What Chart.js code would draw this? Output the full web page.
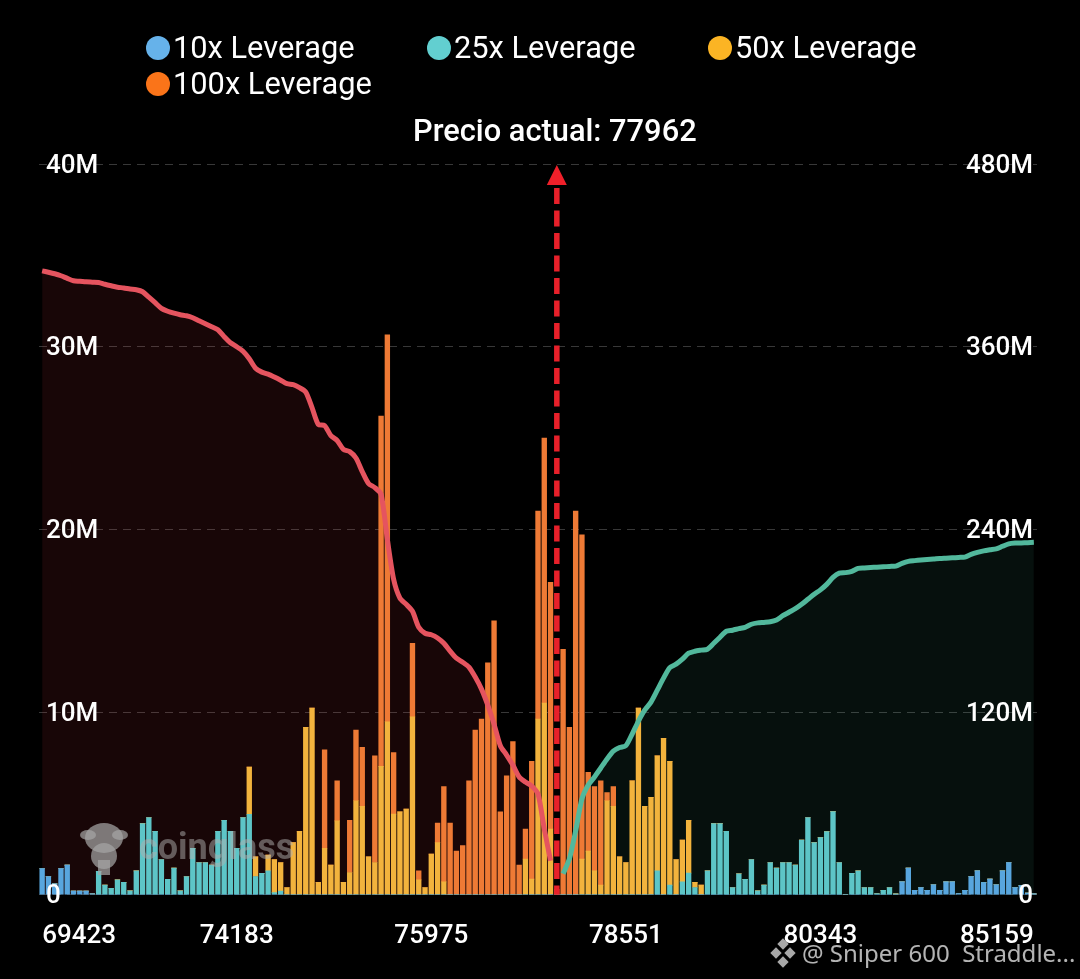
<!DOCTYPE html>
<html>
<head>
<meta charset="utf-8">
<script src="https://cdn.jsdelivr.net/npm/chart.js@4/dist/chart.umd.min.js"></script>
<style>
  html, body { margin: 0; background: #000; }
  #wrap { position: relative; width: 1080px; height: 979px; overflow: hidden; font-family: Roboto, sans-serif; color: #fff; }
  canvas { position: absolute; left: 0; top: 0; }
  .leg { position: absolute; font-size: 30.8px; line-height: 36px; white-space: nowrap; padding-left: 27px; }
  .leg i { position: absolute; left: 0; top: 6px; width: 24px; height: 24px; border-radius: 50%; }
  #firma { position: absolute; left: 802px; top: 936px; font: 24px "Noto Sans", sans-serif; color: rgba(225,225,225,.8); white-space: pre; }
</style>
</head>
<body>
<div id="wrap">
  <canvas id="grafico" width="1080" height="979"></canvas>
  <div id="leyenda"></div>
  <div id="firma">@ Sniper 600  Straddle...</div>
</div>
<script>
const none = n => Array(n).fill(null);
const zero = n => Array(n).fill(0);

// Eje X: solo algunos precios se muestran
const tickIndex = [0, 31, 62, 93, 124, 158];
const tickPrices = ['69423', '74183', '75975', '78551', '80343', '85159'];
const currentIndex = 82;
const currentPrice = '77962';

const seriesNames = ['10x Leverage', '25x Leverage', '50x Leverage', '100x Leverage'];
const legendColors = ['#66b2ea', '#62cfd0', '#fbb424', '#fa7419'];
const barColors = ['#58a6de', '#5dc5c7', '#f2b33d', '#ee7a35'];

// Barras apiladas (millones)
const lev10 = [1.44, 1, .6, 1.44, 1.62, .2, .2, .2, .05, ...zero(128),
  .71, 1.46, .24, .4, .24, .55, .24, .71, .71, .07, .24, 1, 1.31, .67, .86, .55, 1.31, 1.77, .4, .5, .1, .05];
const lev25 = [...zero(9),
  1.28, .53, .36, .82, .68, .22, 1.31, 3.9, 4.23, 3.47, 1.93, .84, 1.46, .22, 1, 2.54, 1.77, 1.77, 1.62, 3.47, 4.07, 3.47, 2.54, 4.23,
  4.4, 1, 1.17, 1.31, .12, .2, ...zero(59),
  1.31, 0, .53, 0, .71, 1.19, .4, 0,
  1.31, 3.9, 3.9, 3.47, .4, 1.15, .84, 1.93, .22, .53, 1.77, 1.46, 1.77, 1.77, 1.62, 3, 4.23, 2.86, 3.13, 3.46, 4.55, 1.77, .03, 1.17, 1.31, .4, .4, .07, .24, .4, .05,
  ...zero(22)];
const lev50 = [...zero(33),
  2.59, 1.08, 0, .86, 1.81, 1.57, .4, 2.86, 3.47, 9.16, 10.22, .68, 2.55, 1.62, 4.05, .68, 1.22, 5.15, 4.84, 2.08, 1.77, 7.03, 9.47, 4.42, 4.54, 4.69, 9.74, .82, .4, 2.23, 2.86, .71,
  ...zero(12),
  1.95, .86, 9.62, 10.5, 3.6, ...zero(4),
  1.95, 2.39, 1.31, .53, 5.15, 4.84, 2.08, 1.77, 6.24, 10.22, 4.84, 5.33, 6.29, 8.56, 6.77, 1.93, 2.29, 2.88, .28, .53,
  ...zero(53)];
const lev100 = [...zero(45),
  5.39, 0, 2.19, 0, 2.85, 3.86, 3.23, 0, 5.83, 19.17, 21.18, 3.37, 0, 0, 4.03, .49, 0, 0, 1.06, 5.22, 3.92, 2.39, 2.7, 6.24, 9.01, 9.62, 12.7, 15, 4.54, 6.51, 8.38, 1.62, 1.65, 6.44, 11.38, 14.5, 13.5, .3, 13.44, 9.16, 21, 17.75, 4.31, 4.62, 5.71, .45, 1.09,
  ...zero(67)];

// Lineas acumuladas (eje derecho, millones)
const longAcum = [409.8, 408.9, 407.9, 406.6, 404.9, 403.3, 403, 402.6, 402.4, 402.2,
  401, 400, 399.1, 398.6, 397.9, 397.4, 396.1, 392.5, 388.9, 385.2,
  383.3, 382, 381, 380.3, 379, 377, 375.1, 373.1, 371.1, 366.6,
  362.6, 360, 357, 352.1, 345.9, 343.3, 342, 340.1, 338, 335.7,
  335.1, 333.1, 330.2, 320, 308.9, 308.2, 301.6, 298.4, 292.5, 291.1,
  286.9, 278, 270.2, 267.5, 263, 233.4, 207.2, 194.8, 190.8, 186.2,
  175.7, 171.8, 170.8, 168.7, 165.2, 160, 155.4, 152.8, 149.5, 143,
  135.1, 124.6, 112.1, 97.9, 91.8, 85.2, 77.4, 74.1, 71.5, 66.2,
  43.3, 22.3, ...none(77)];
const shortAcum = [...none(83),
  13.8, 23.6, 42, 63, 72.1, 77.4, 83.3, 89.2, 94.4, 96.7,
  98, 105.6, 114.1, 121.3, 126.6, 134.4, 142.3, 149.2, 151.5, 154.8,
  158.7, 160, 160.7, 161.3, 165.2, 169.2, 173.1, 173.8, 174.8, 175.7,
  177.7, 178.6, 178.9, 179.3, 180.5, 183.3, 185.6, 187.9, 190.8, 194.1,
  197.4, 200.3, 203.9, 208.5, 211.3, 211.6, 212.5, 214.4, 214.7, 215,
  215.2, 215.4, 215.7, 215.9, 217.7, 219, 219.5, 219.9, 220.2, 220.5,
  220.9, 221.1, 221.3, 221.6, 221.8, 223.6, 224.9, 225.9, 226.6, 227.2,
  228.9, 230.5, 231, 231.1, 231.3, 231.5];

const categories = lev10.map((_, i) => String(i));

// Leyenda
const legendPos = [[146, 30], [427, 30], [708, 30], [146, 66]];
seriesNames.forEach((nombre, i) => {
  const item = document.createElement('div');
  item.className = 'leg';
  item.style.left = legendPos[i][0] + 'px';
  item.style.top = legendPos[i][1] + 'px';
  item.innerHTML = `<i style="background:${legendColors[i]}"></i>${nombre}`;
  document.getElementById('leyenda').appendChild(item);
});

// Marca de agua, flecha del precio actual y titulo
const extras = {
  id: 'extras',
  afterDatasetsDraw(chart) {
    const ctx = chart.ctx;
    const x = chart.scales.x.getPixelForValue(currentIndex);
    const top = chart.chartArea.top, bottom = chart.chartArea.bottom;
    ctx.save();

    // coinglass
    ctx.fillStyle = 'rgba(165,165,165,.72)';
    ctx.beginPath(); ctx.ellipse(104, 838, 19, 15, 0, 0, Math.PI * 2); ctx.fill();
    ctx.beginPath(); ctx.ellipse(104, 856, 13, 13, 0, 0, Math.PI * 2); ctx.fill();
    ctx.beginPath(); ctx.ellipse(88, 835, 8, 5, 0, 0, Math.PI * 2); ctx.fill();
    ctx.beginPath(); ctx.ellipse(120, 835, 8, 5, 0, 0, Math.PI * 2); ctx.fill();
    ctx.fillRect(98, 860, 12, 15);
    ctx.fillStyle = 'rgba(175,175,175,.5)';
    ctx.font = '700 36px Roboto';
    ctx.textAlign = 'left';
    ctx.textBaseline = 'middle';
    ctx.fillText('coinglass', 139, 850);

    // logo de la firma
    ctx.fillStyle = 'rgba(210,210,210,.8)';
    [[783, 944], [776, 953], [790, 953], [783, 962]].forEach(p => {
      ctx.save();
      ctx.translate(p[0], p[1]);
      ctx.rotate(Math.PI / 4);
      ctx.fillRect(-4, -4, 8, 8);
      ctx.restore();
    });

    // linea discontinua
    ctx.strokeStyle = '#e8202a';
    ctx.lineWidth = 5.5;
    ctx.setLineDash([16, 6.5]);
    ctx.beginPath();
    ctx.moveTo(x, top + 24);
    ctx.lineTo(x, bottom);
    ctx.stroke();
    ctx.setLineDash([]);
    ctx.fillStyle = '#f0202a';
    ctx.beginPath();
    ctx.moveTo(x, top + 1);
    ctx.lineTo(x - 10, top + 21);
    ctx.lineTo(x + 10, top + 21);
    ctx.closePath();
    ctx.fill();

    ctx.fillStyle = '#fff';
    ctx.font = '500 30.8px Roboto';
    ctx.textAlign = 'center';
    ctx.fillText('Precio actual: ' + currentPrice, x - 2, 133);
    ctx.restore();
  }
};

const tickFont = { family: 'Roboto', size: 26, weight: '500' };

new Chart(document.getElementById('grafico'), {
  data: {
    labels: categories,
    datasets: [
      { type: 'line', label: 'Long', data: longAcum, yAxisID: 'y1', order: 0, borderColor: '#e5545f', borderWidth: 5,
        backgroundColor: 'rgba(234,60,70,.1)', fill: 'origin', pointRadius: 0, tension: .25, spanGaps: false },
      { type: 'line', label: 'Short', data: shortAcum, yAxisID: 'y1', order: 0, borderColor: '#52b89c', borderWidth: 5,
        backgroundColor: 'rgba(82,200,165,.08)', fill: 'origin', pointRadius: 0, tension: .25, spanGaps: false },
      { type: 'bar', label: seriesNames[0], data: lev10, yAxisID: 'y', order: 1, backgroundColor: barColors[0], barThickness: 4.7 },
      { type: 'bar', label: seriesNames[1], data: lev25, yAxisID: 'y', order: 1, backgroundColor: barColors[1], barThickness: 4.7 },
      { type: 'bar', label: seriesNames[2], data: lev50, yAxisID: 'y', order: 1, backgroundColor: barColors[2], barThickness: 4.7 },
      { type: 'bar', label: seriesNames[3], data: lev100, yAxisID: 'y', order: 1, backgroundColor: barColors[3], barThickness: 4.7 }
    ]
  },
  options: {
    responsive: false,
    animation: false,
    devicePixelRatio: 1,
    layout: { padding: { left: 25, right: 43, top: 164, bottom: 9 } },
    plugins: {
      legend: { display: false },
      tooltip: { enabled: false },
      filler: { drawTime: 'beforeDatasetsDraw' }
    },
    scales: {
      x: {
        stacked: true,
        grid: { display: false },
        border: { display: false },
        afterBuildTicks: axis => { axis.ticks = tickIndex.map(v => ({ value: v })); },
        ticks: {
          autoSkip: false, maxRotation: 0, minRotation: 0, align: 'inner', color: '#fff', padding: 18,
          font: { family: 'Roboto', size: 26, weight: '500' },
          callback: v => tickPrices[tickIndex.indexOf(v)]
        }
      },
      y: {
        stacked: true, min: 0, max: 40,
        grid: { color: 'rgba(255,255,255,.22)', drawTicks: false },
        border: { display: false, dash: [8, 6] },
        ticks: { mirror: true, stepSize: 10, padding: 7, z: 2, labelOffset: 2, color: '#fff', font: tickFont, callback: v => v === 0 ? '0' : v + 'M' }
      },
      y1: {
        position: 'right', min: 0, max: 480,
        grid: { display: false, drawTicks: false },
        border: { display: false },
        afterFit: axis => { axis.width = 0; },
        ticks: { mirror: true, stepSize: 120, padding: -4, z: 2, labelOffset: 2, color: '#fff', font: tickFont, callback: v => v === 0 ? '0' : v + 'M' }
      }
    }
  },
  plugins: [extras]
});
</script>
</body>
</html>
